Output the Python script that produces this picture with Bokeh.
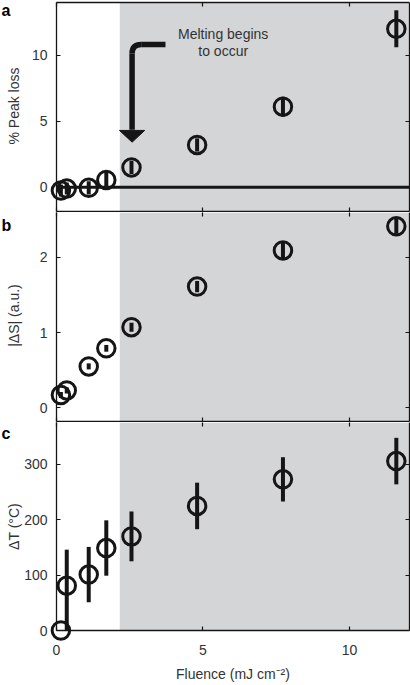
import math
from bokeh.plotting import figure
from bokeh.layouts import column
from bokeh.models import Range1d, FixedTicker, LinearAxis, BoxAnnotation, Span, Label
from bokeh.core.properties import value
from bokeh.embed import file_html
from bokeh.resources import INLINE

# ---------------- data ----------------
FLUENCE = [0.15, 0.35, 1.1, 1.7, 2.56, 4.8, 7.73, 11.6]
PEAK_LOSS = [-0.25, -0.1, -0.05, 0.55, 1.5, 3.2, 6.1, 12.0]
PEAK_LOSS_ERR = [0.45, 0.45, 0.5, 0.6, 0.5, 0.5, 0.75, 1.4]
DELTA_S = [0.17, 0.23, 0.55, 0.79, 1.07, 1.61, 2.09, 2.41]
DELTA_S_ERR = [0.04, 0.04, 0.04, 0.045, 0.06, 0.075, 0.1, 0.1]
DELTA_T = [0, 81, 101, 149, 170, 225, 273, 306]
DELTA_T_ERR_LOW = [0, 81, 50, 50, 45, 42, 40, 42]
DELTA_T_ERR_HIGH = [0, 65, 50, 50, 45, 42, 40, 42]
MELT_ONSET = 2.16

X_TICKS = [0, 5, 10]
PEAK_TICKS = [0, 5, 10]
DS_TICKS = [0, 1, 2]
DT_TICKS = [0, 100, 200, 300]

X_LABEL = "Fluence (mJ cm⁻²)"
PEAK_LABEL = "% Peak loss"
DS_LABEL = "|ΔS| (a.u.)"
DT_LABEL = "ΔT (°C)"
NOTE_LINES = ["Melting begins", "to occur"]

# ---------------- style / layout ----------------
FONT = "Liberation Sans"
INK = "#151515"
TEXT = "#333333"
GRAY = "#d4d5d7"
WIDTH = 410
LEFT = 56
X_START, X_END = 0, 12.05
FRAME_W = WIDTH - LEFT - 1
X_RANGE = Range1d(X_START, X_END)
YTITLE_BASELINE_PX = 13   # from the left edge of the page
LETTER_PX = 1


def add_axis(p, ticks, side, labels=False, line=True, label_text=None, standoff=0,
             label_standoff=9):
    ax = LinearAxis(ticker=FixedTicker(ticks=ticks))
    ax.major_tick_in = 4
    ax.major_tick_out = 0
    ax.minor_tick_line_color = None
    ax.major_tick_line_color = INK
    ax.major_tick_line_width = 1.2
    ax.axis_line_color = INK if line else None
    ax.axis_line_width = 1.3
    if labels:
        ax.major_label_text_font = FONT
        ax.major_label_text_font_size = "14px"
        ax.major_label_text_color = TEXT
        ax.major_label_standoff = label_standoff
    else:
        ax.major_label_text_font_size = "0px"
        ax.major_label_text_color = None
        ax.major_label_standoff = 0
    if label_text:
        ax.axis_label = label_text
        ax.axis_label_text_font = FONT
        ax.axis_label_text_font_size = "14px"
        ax.axis_label_text_font_style = "normal"
        ax.axis_label_text_color = TEXT
        ax.axis_label_standoff = standoff
    p.add_layout(ax, side)
    return ax


def make_panel(y_start, y_end, yticks, ytitle, ytitle_center, letter, letter_drop,
               top, frame_h, bottom, top_line, last=False):
    p = figure(width=WIDTH, height=top + frame_h + bottom,
               x_range=X_RANGE, y_range=Range1d(y_start, y_end),
               output_backend="svg", toolbar_location=None,
               x_axis_location=None, y_axis_location=None,
               min_border_left=LEFT, min_border_right=1,
               min_border_top=top, min_border_bottom=bottom)
    p.outline_line_color = None
    p.background_fill_color = "white"
    p.border_fill_color = "white"
    p.grid.visible = False

    add_axis(p, yticks, "left", labels=True)
    add_axis(p, yticks, "right")
    add_axis(p, X_TICKS, "above", line=top_line)
    if last:
        add_axis(p, X_TICKS, "below", labels=True, label_text=X_LABEL, standoff=8,
                 label_standoff=14)
    else:
        add_axis(p, X_TICKS, "below")

    p.add_layout(BoxAnnotation(left=MELT_ONSET, fill_color=GRAY, fill_alpha=1.0,
                               line_color=None, level="underlay"))

    # texts left of the frame are drawn as overlay glyphs (not clipped to the frame)
    ux = (X_END - X_START) / FRAME_W
    uy = (y_end - y_start) / frame_h
    t1 = p.text(x=[X_START + (LETTER_PX - LEFT) * ux], y=[y_end - letter_drop * uy],
                text=[letter], text_font=value(FONT), text_font_style="bold",
                text_font_size=value("16px"), text_color="black",
                text_align="left", text_baseline="alphabetic")
    t1.level = "overlay"
    t2 = p.text(x=[X_START + (YTITLE_BASELINE_PX - LEFT) * ux],
                y=[y_end - ytitle_center * uy],
                text=[ytitle], angle=math.pi / 2, text_font=value(FONT),
                text_font_size=value("14px"), text_color=TEXT,
                text_align="center", text_baseline="alphabetic")
    t2.level = "overlay"
    return p


def add_points(p, vals, lo, hi):
    bars = p.segment(x0=FLUENCE, y0=lo, x1=FLUENCE, y1=hi, line_color=INK,
                     line_width=4, line_cap="butt")
    bars.level = "overlay"
    pts = p.scatter(FLUENCE, vals, marker="circle", size=17.5, fill_color=None,
                    line_color=INK, line_width=3)
    pts.level = "overlay"


# ---- panel a ----  (title centre / letter baseline given in px below the frame top)
pa = make_panel(-1.84, 13.99, PEAK_TICKS, PEAK_LABEL, 103.5, "a", 8,
                top=2, frame_h=209, bottom=1, top_line=True)
pa.add_layout(Span(location=0, dimension="width", line_color=INK, line_width=3,
                   level="underlay"))
add_points(pa, PEAK_LOSS,
           [v - e for v, e in zip(PEAK_LOSS, PEAK_LOSS_ERR)],
           [v + e for v, e in zip(PEAK_LOSS, PEAK_LOSS_ERR)])

# annotation arrow (bent, with a rounded corner)
ARROW_X, ARROW_TOP, ARROW_START_X = 2.58, 10.8, 3.72
ARROW_BASE, ARROW_TIP = 4.3, 3.41
CORNER_DX, CORNER_DY, HEAD_HALF = 0.31, 0.68, 0.43
arrow_style = dict(line_color=INK, line_width=5.5, line_cap="butt")
pa.segment(x0=[ARROW_START_X], y0=[ARROW_TOP], x1=[ARROW_X + CORNER_DX], y1=[ARROW_TOP],
           **arrow_style)
pa.quadratic(x0=[ARROW_X + CORNER_DX], y0=[ARROW_TOP], x1=[ARROW_X], y1=[ARROW_TOP - CORNER_DY],
             cx=[ARROW_X], cy=[ARROW_TOP], **arrow_style)
pa.segment(x0=[ARROW_X], y0=[ARROW_TOP - CORNER_DY], x1=[ARROW_X], y1=[ARROW_BASE + 0.05],
           **arrow_style)
pa.patch(x=[ARROW_X - HEAD_HALF, ARROW_X + HEAD_HALF, ARROW_X],
         y=[ARROW_BASE, ARROW_BASE, ARROW_TIP], fill_color=INK, line_color=INK, line_width=1)
for txt, yy in zip(NOTE_LINES, [11.57, 10.3]):
    pa.add_layout(Label(x=5.69, y=yy, text=txt, text_font=FONT, text_font_size="14px",
                        text_color=TEXT, text_align="center", text_baseline="middle"))

# ---- panel b ----
pb = make_panel(-0.182, 2.594, DS_TICKS, DS_LABEL, 103, "b", 13,
                top=0, frame_h=209, bottom=1, top_line=False)
add_points(pb, DELTA_S,
           [v - e for v, e in zip(DELTA_S, DELTA_S_ERR)],
           [v + e for v, e in zip(DELTA_S, DELTA_S_ERR)])

# ---- panel c ----
pc = make_panel(0, 375.7, DT_TICKS, DT_LABEL, 105, "c", 11,
                top=0, frame_h=210, bottom=52, top_line=False, last=True)
add_points(pc, DELTA_T,
           [v - e for v, e in zip(DELTA_T, DELTA_T_ERR_LOW)],
           [v + e for v, e in zip(DELTA_T, DELTA_T_ERR_HIGH)])

layout = column(pa, pb, pc)
open("out.html", "w").write(file_html(layout, INLINE))
